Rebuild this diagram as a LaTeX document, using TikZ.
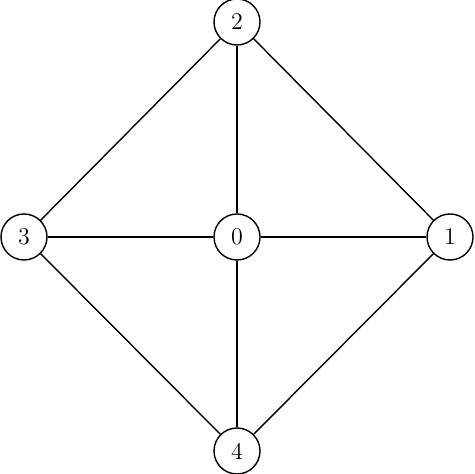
\documentclass[tikz,border=0pt]{standalone}
\usepackage{tikz}
\usetikzlibrary{positioning}

\begin{document}
\begin{tikzpicture}[x=0.5pt,y=0.5pt, vertex/.style={draw, circle, line width=0.7pt, minimum size=23pt, inner sep=0pt, fill=white, font=\large}]
\useasboundingbox (0,0) rectangle (474,474);

\node[vertex](v0) at (237,237) {0};
\node[vertex](v1) at (450,237) {1};
\node[vertex](v2) at (237,452) {2};
\node[vertex](v3) at (24,237) {3};
\node[vertex](v4) at (237,23) {4};

\foreach \i in {1,...,4}
	\draw[line width=0.7pt] (v0) -- (v\i);

\draw[line width=0.7pt] (v1) -- (v2) -- (v3) -- (v4) -- (v1);

\end{tikzpicture}
\end{document}
